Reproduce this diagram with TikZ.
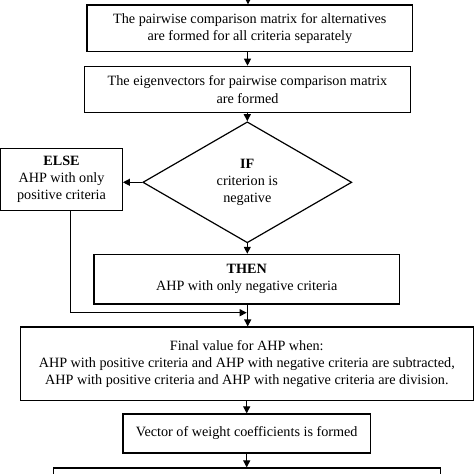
\documentclass[tikz,border=0pt]{standalone}
\usepackage{fontspec}
\setmainfont{Liberation Serif}
\usetikzlibrary{shapes.geometric,arrows.meta,calc}
\begin{document}
\begin{tikzpicture}[x=1pt,y=-1pt,
  box/.style={draw,line width=1.2pt,align=center,inner sep=0pt,font=\fontsize{14.2}{17.3}\selectfont},
  dec/.style={draw,line width=1.2pt,diamond,align=center,inner sep=0pt,font=\fontsize{14.2}{17.3}\selectfont,minimum width=209pt,minimum height=121pt},
  arr/.style={line width=1.1pt,-{Triangle[length=7pt,width=7pt]}}]
\useasboundingbox (0,0) rectangle (474,474);
\coordinate (top) at (248,-5);
\node[box,minimum width=325.7pt,minimum height=46.7pt] (b1) at (249.8,28.3)
  {The pairwise comparison matrix for alternatives\\are formed for all criteria separately};
\node[box,minimum width=325.6pt,minimum height=46.4pt] (b2) at (247.5,89.5)
  {The eigenvectors for pairwise comparison matrix\\are formed};
\node[dec] (d) at (247.3,182.3) {\textbf{IF}\\criterion is\\negative};
\node[box,minimum width=121.6pt,minimum height=62.4pt] (else) at (61.5,179.5)
  {\textbf{ELSE}\\AHP with only\\positive criteria};
\node[box,minimum width=305.3pt,minimum height=49.7pt] (then) at (246.7,279.2)
  {\textbf{THEN}\\AHP with only negative criteria};
\node[box,minimum width=453pt,minimum height=73.7pt] (fin) at (246.8,363.9)
  {Final value for AHP when:\\AHP with positive criteria and AHP with negative criteria are subtracted,\\AHP with positive criteria and AHP with negative criteria are division.};
\node[box,minimum width=247.3pt,minimum height=39pt] (vec) at (246.7,433.5)
  {Vector of weight coefficients is formed};
\node[box,minimum width=387pt,minimum height=40pt] (last) at (247.2,488) {};
\coordinate (join) at (246.7,312.7);
\draw[arr] (top) -- (top|-b1.north);
\draw[arr] (b1.south-|247.5,0) -- (247.5,0|-b2.north);
\draw[arr] (b2.south-|247.3,0) -- (d.north);
\draw[arr] (d.west) -- (else.east|-d.west);
\draw[arr] (d.south) -- (d.south|-then.north);
\draw[arr] (then.south-|247.7,0) -- (247.7,0|-fin.north);
\draw[arr] (else.south-|70.3,0) |- (join);
\draw[arr] (fin.south-|246.7,0) -- (246.7,0|-vec.north);
\draw[arr] (vec.south-|246.7,0) -- (246.7,0|-last.north);
\end{tikzpicture}
\end{document}
